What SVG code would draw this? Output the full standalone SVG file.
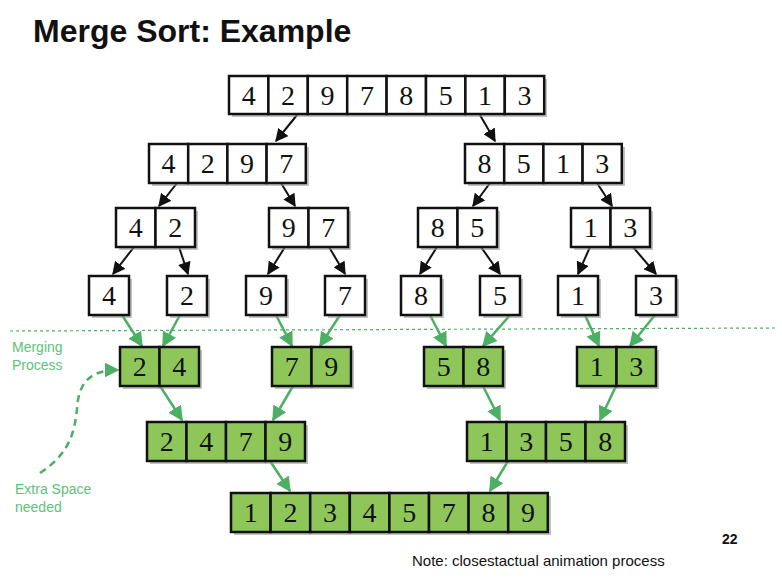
<svg xmlns="http://www.w3.org/2000/svg" width="782" height="580" viewBox="0 0 782 580">
<defs>
<style>
.c{fill:#fff;stroke:#111;stroke-width:2.5}
.g{fill:#8fc65a;stroke:#111;stroke-width:2.5}
.s{fill:#999;opacity:.6}
.n{font-family:"Liberation Serif",serif;font-size:28px;fill:#111;text-anchor:middle}
.a{stroke:#111;stroke-width:2;fill:none;marker-end:url(#ab)}
.ga{stroke:#4caf63;stroke-width:2.5;fill:none;marker-end:url(#ag)}
.lbl{font-family:"Liberation Sans",sans-serif;font-size:14px;fill:#5cc27a}
</style>
<marker id="ab" viewBox="0 0 10 10" refX="9" refY="5" markerWidth="6.5" markerHeight="6.5" orient="auto"><path d="M0,0L10,5L0,10z" fill="#111"/></marker>
<marker id="ag" viewBox="0 0 10 10" refX="9" refY="5" markerWidth="6" markerHeight="6" orient="auto"><path d="M0,0L10,5L0,10z" fill="#4caf63"/></marker>
</defs>
<rect width="782" height="580" fill="#fff"/>
<text x="33" y="42" font-family="Liberation Sans,sans-serif" font-size="32" font-weight="bold" fill="#111">Merge Sort: Example</text>

<g id="connectors">
<path class="a" d="M297,115L276,141"/><path class="a" d="M480,115L495,141"/>
<path class="a" d="M177,183L159,206"/><path class="a" d="M281,183L295,206"/>
<path class="a" d="M490,183L473,206"/><path class="a" d="M597,183L612,206"/>
<path class="a" d="M134,247L113,274"/><path class="a" d="M179,247L188,274"/>
<path class="a" d="M285,247L268,274"/><path class="a" d="M329,247L345,274"/>
<path class="a" d="M437,247L420,274"/><path class="a" d="M481,247L500,274"/>
<path class="a" d="M590,247L578,274"/><path class="a" d="M633,247L656,274"/>
<path class="ga" d="M122,315L142,346"/><path class="ga" d="M180,315L163,346"/>
<path class="ga" d="M276,315L292,346"/><path class="ga" d="M340,315L320,346"/>
<path class="ga" d="M430,315L446,346"/><path class="ga" d="M510,315L483,346"/>
<path class="ga" d="M585,315L599,346"/><path class="ga" d="M655,315L630,346"/>
<path class="ga" d="M160,386L182,420"/><path class="ga" d="M293,386L273,420"/>
<path class="ga" d="M483,386L500,420"/><path class="ga" d="M616,386L600,420"/>
<path class="ga" d="M270,461L290,491"/><path class="ga" d="M508,461L490,491"/>
<path d="M40,473C75,450 75,425 78,400C82,378 95,370 118,370" stroke="#4caf63" stroke-width="2.5" stroke-dasharray="7,5" fill="none" marker-end="url(#ag)"/>
</g>
<line x1="10" y1="331" x2="776" y2="328" stroke="#4caf63" stroke-width="1.2" stroke-dasharray="3,3"/>

<g id="labels">
<text class="lbl" x="12" y="352">Merging</text><text class="lbl" x="12" y="370">Process</text>
<text class="lbl" x="15" y="494">Extra Space</text><text class="lbl" x="15" y="512">needed</text>
<text x="722" y="544" font-family="Liberation Sans,sans-serif" font-size="14" font-weight="bold" fill="#111">22</text>
<text x="412" y="566" font-family="Liberation Sans,sans-serif" font-size="15" fill="#111">Note: closestactual animation process</text>
</g>

<g id="n0"><rect class="s" x="232" y="79" width="315" height="38"/>
<rect class="c" x="229" y="76" width="39.4" height="38"/><rect class="c" x="268.4" y="76" width="39.4" height="38"/><rect class="c" x="307.8" y="76" width="39.4" height="38"/><rect class="c" x="347.2" y="76" width="39.4" height="38"/><rect class="c" x="386.6" y="76" width="39.4" height="38"/><rect class="c" x="426" y="76" width="39.4" height="38"/><rect class="c" x="465.4" y="76" width="39.4" height="38"/><rect class="c" x="504.8" y="76" width="39.4" height="38"/>
<text class="n" y="105"><tspan x="248.7">4</tspan><tspan x="288.1">2</tspan><tspan x="327.5">9</tspan><tspan x="366.9">7</tspan><tspan x="406.3">8</tspan><tspan x="445.7">5</tspan><tspan x="485.1">1</tspan><tspan x="524.5">3</tspan></text></g>

<g id="n1"><rect class="s" x="152" y="147" width="157" height="39"/>
<rect class="c" x="149" y="144" width="39.2" height="39"/><rect class="c" x="188.2" y="144" width="39.2" height="39"/><rect class="c" x="227.4" y="144" width="39.2" height="39"/><rect class="c" x="266.6" y="144" width="39.2" height="39"/>
<text class="n" y="173"><tspan x="168.6">4</tspan><tspan x="207.8">2</tspan><tspan x="247">9</tspan><tspan x="286.2">7</tspan></text></g>

<g id="n2"><rect class="s" x="468" y="147" width="157" height="39"/>
<rect class="c" x="465" y="144" width="39.2" height="39"/><rect class="c" x="504.2" y="144" width="39.2" height="39"/><rect class="c" x="543.4" y="144" width="39.2" height="39"/><rect class="c" x="582.6" y="144" width="39.2" height="39"/>
<text class="n" y="173"><tspan x="484.6">8</tspan><tspan x="523.8">5</tspan><tspan x="563">1</tspan><tspan x="602.2">3</tspan></text></g>

<g id="n3"><rect class="s" x="119" y="211" width="79" height="39"/><rect class="c" x="116" y="208" width="39.5" height="39"/><rect class="c" x="155.5" y="208" width="39.5" height="39"/><text class="n" y="237"><tspan x="135.7">4</tspan><tspan x="175.2">2</tspan></text></g>
<g id="n4"><rect class="s" x="272" y="211" width="79" height="39"/><rect class="c" x="269" y="208" width="39.5" height="39"/><rect class="c" x="308.5" y="208" width="39.5" height="39"/><text class="n" y="237"><tspan x="288.7">9</tspan><tspan x="328.2">7</tspan></text></g>
<g id="n5"><rect class="s" x="421" y="211" width="79" height="39"/><rect class="c" x="418" y="208" width="39.5" height="39"/><rect class="c" x="457.5" y="208" width="39.5" height="39"/><text class="n" y="237"><tspan x="437.7">8</tspan><tspan x="477.2">5</tspan></text></g>
<g id="n6"><rect class="s" x="574" y="211" width="79" height="39"/><rect class="c" x="571" y="208" width="39.5" height="39"/><rect class="c" x="610.5" y="208" width="39.5" height="39"/><text class="n" y="237"><tspan x="590.7">1</tspan><tspan x="630.2">3</tspan></text></g>

<g id="n7"><rect class="s" x="92" y="279" width="40" height="39"/><rect class="c" x="89" y="276" width="40" height="39"/><text class="n" x="109" y="305">4</text></g>
<g id="n8"><rect class="s" x="170" y="279" width="40" height="39"/><rect class="c" x="167" y="276" width="40" height="39"/><text class="n" x="187" y="305">2</text></g>
<g id="n9"><rect class="s" x="249" y="279" width="40" height="39"/><rect class="c" x="246" y="276" width="40" height="39"/><text class="n" x="266" y="305">9</text></g>
<g id="n10"><rect class="s" x="328" y="279" width="40" height="39"/><rect class="c" x="325" y="276" width="40" height="39"/><text class="n" x="345" y="305">7</text></g>
<g id="n11"><rect class="s" x="404" y="279" width="40" height="39"/><rect class="c" x="401" y="276" width="40" height="39"/><text class="n" x="421" y="305">8</text></g>
<g id="n12"><rect class="s" x="483" y="279" width="40" height="39"/><rect class="c" x="480" y="276" width="40" height="39"/><text class="n" x="500" y="305">5</text></g>
<g id="n13"><rect class="s" x="561" y="279" width="40" height="39"/><rect class="c" x="558" y="276" width="40" height="39"/><text class="n" x="578" y="305">1</text></g>
<g id="n14"><rect class="s" x="639" y="279" width="40" height="39"/><rect class="c" x="636" y="276" width="40" height="39"/><text class="n" x="656" y="305">3</text></g>

<g id="m1"><rect class="s" x="123" y="350" width="79" height="39"/><rect class="g" x="120" y="347" width="39.5" height="39"/><rect class="g" x="159.5" y="347" width="39.5" height="39"/><text class="n" y="376"><tspan x="139.7">2</tspan><tspan x="179.2">4</tspan></text></g>
<g id="m2"><rect class="s" x="275" y="350" width="79" height="39"/><rect class="g" x="272" y="347" width="39.5" height="39"/><rect class="g" x="311.5" y="347" width="39.5" height="39"/><text class="n" y="376"><tspan x="291.7">7</tspan><tspan x="331.2">9</tspan></text></g>
<g id="m3"><rect class="s" x="427" y="350" width="79" height="39"/><rect class="g" x="424" y="347" width="39.5" height="39"/><rect class="g" x="463.5" y="347" width="39.5" height="39"/><text class="n" y="376"><tspan x="443.7">5</tspan><tspan x="483.2">8</tspan></text></g>
<g id="m4"><rect class="s" x="580" y="350" width="79" height="39"/><rect class="g" x="577" y="347" width="39.5" height="39"/><rect class="g" x="616.5" y="347" width="39.5" height="39"/><text class="n" y="376"><tspan x="596.7">1</tspan><tspan x="636.2">3</tspan></text></g>

<g id="m5"><rect class="s" x="150" y="425" width="158" height="39"/>
<rect class="g" x="147" y="422" width="39.5" height="39"/><rect class="g" x="186.5" y="422" width="39.5" height="39"/><rect class="g" x="226" y="422" width="39.5" height="39"/><rect class="g" x="265.5" y="422" width="39.5" height="39"/>
<text class="n" y="451"><tspan x="166.7">2</tspan><tspan x="206.2">4</tspan><tspan x="245.7">7</tspan><tspan x="285.2">9</tspan></text></g>
<g id="m6"><rect class="s" x="470" y="425" width="158" height="39"/>
<rect class="g" x="467" y="422" width="39.5" height="39"/><rect class="g" x="506.5" y="422" width="39.5" height="39"/><rect class="g" x="546" y="422" width="39.5" height="39"/><rect class="g" x="585.5" y="422" width="39.5" height="39"/>
<text class="n" y="451"><tspan x="486.7">1</tspan><tspan x="526.2">3</tspan><tspan x="565.7">5</tspan><tspan x="605.2">8</tspan></text></g>

<g id="m7"><rect class="s" x="234" y="496" width="317" height="39"/>
<rect class="g" x="231" y="493" width="39.6" height="39"/><rect class="g" x="270.6" y="493" width="39.6" height="39"/><rect class="g" x="310.2" y="493" width="39.6" height="39"/><rect class="g" x="349.8" y="493" width="39.6" height="39"/><rect class="g" x="389.4" y="493" width="39.6" height="39"/><rect class="g" x="429" y="493" width="39.6" height="39"/><rect class="g" x="468.6" y="493" width="39.6" height="39"/><rect class="g" x="508.2" y="493" width="39.6" height="39"/>
<text class="n" y="522"><tspan x="250.8">1</tspan><tspan x="290.4">2</tspan><tspan x="330">3</tspan><tspan x="369.6">4</tspan><tspan x="409.2">5</tspan><tspan x="448.8">7</tspan><tspan x="488.4">8</tspan><tspan x="528">9</tspan></text></g>
</svg>
